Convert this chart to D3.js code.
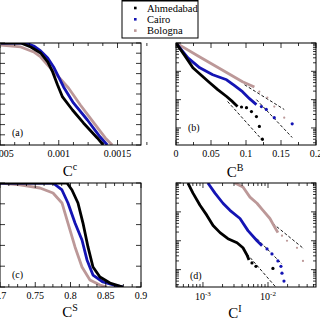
<!DOCTYPE html>
<html>
<head>
<meta charset="utf-8">
<script src="https://cdn.jsdelivr.net/npm/d3@7"></script>
<style>
  body { margin: 0; background: #fff; }
  svg { display: block; }
</style>
</head>
<body>
<svg id="chart" width="320" height="320" font-family="'Liberation Serif', 'Times New Roman', 'DejaVu Serif', serif"></svg>
<script>
const CITIES = ['Ahmedabad', 'Cairo', 'Bologna'];
const COLORS = ['#000000', '#1414b4', '#bc9898'];

// (a) closeness C^c, cumulative fraction
const aAhm = [[0.000508,1],[0.000677,1],[0.000762,0.961],[0.000846,0.902],[0.000906,0.814],[0.000948,0.716],[0.00099,0.588],[0.001032,0.471],[0.001117,0.343],[0.00121,0.216],[0.001328,0.069],[0.001379,0]];
const aCai = [[0.000508,1],[0.00072,1],[0.000787,0.971],[0.000846,0.922],[0.000906,0.853],[0.000956,0.765],[0.001041,0.569],[0.001125,0.412],[0.001244,0.245],[0.001353,0.078],[0.001413,0]];
const aBol = [[0.000508,0.98],[0.000677,0.961],[0.000787,0.912],[0.000846,0.863],[0.000906,0.784],[0.000999,0.667],[0.001083,0.559],[0.001184,0.392],[0.001294,0.225],[0.001396,0.069],[0.001455,0]];

// (b) betweenness C^B
const bAhm = [[0,1],[0.0128,0.35],[0.0241,0.133],[0.0369,0.0697],[0.0482,0.0396],[0.0596,0.0225],[0.0723,0.0129],[0.0808,0.0085],[0.0879,0.0057]];
const bAhmTail = [[0.0936,0.0055],[0.1007,0.0052],[0.1078,0.0038],[0.1149,0.00253],[0.1191,0.00113],[0.1234,0.0004]];
const bAhmFit = [[0.0737,0.0086],[0.1248,0.00034]];
const bCai = [[0,1],[0.017,0.3],[0.034,0.133],[0.0525,0.0755],[0.0723,0.0503],[0.0837,0.031],[0.095,0.0191],[0.105,0.0108],[0.1149,0.0067]];
const bCaiTail = [[0.122,0.0057],[0.129,0.0045],[0.1404,0.0023],[0.166,0.0014]];
const bCaiFit = [[0.1149,0.01],[0.166,0.00046]];
const bBol = [[0,1],[0.034,0.32],[0.0624,0.126],[0.095,0.043],[0.112,0.028]];
const bBolTail = [[0.119,0.0191],[0.1305,0.0118],[0.1404,0.0057],[0.1546,0.0023]];
const bBolFit = [[0.0979,0.0336],[0.1546,0.0045]];

// (c) straightness C^S, cumulative fraction
const cAhm = [[0.7,1],[0.795,1],[0.8021,0.933],[0.8106,0.808],[0.8177,0.615],[0.8248,0.385],[0.8319,0.192],[0.8418,0.096],[0.856,0.038],[0.8744,0]];
const cCai = [[0.7,1],[0.7752,1],[0.7879,0.933],[0.7964,0.808],[0.8064,0.615],[0.8163,0.452],[0.8234,0.26],[0.8319,0.115],[0.846,0.048],[0.8659,0.01],[0.8744,0]];
const cBol = [[0.7,1],[0.7284,0.981],[0.7567,0.952],[0.7752,0.904],[0.7879,0.808],[0.7964,0.615],[0.8064,0.385],[0.8163,0.192],[0.8276,0.067],[0.8418,0.019],[0.8517,0]];

// (d) information C^I
const dAhm = [[5.87e-4,1],[7.02e-4,0.446],[9.0e-4,0.169],[1.15e-3,0.0754],[1.43e-3,0.0336],[1.83e-3,0.0191],[2.42e-3,0.0118],[3.34e-3,0.0085],[4.12e-3,0.0057],[4.75e-3,0.0032],[5.1e-3,0.00215]];
const dAhmTail = [[5.67e-3,0.0017],[6.53e-3,0.0013],[1.19e-2,0.0011]];
const dAhmFit = [[4.75e-3,0.0035],[1.37e-2,0.000224]];
const dCai = [[1.19e-3,1],[1.53e-3,0.446],[2.03e-3,0.199],[2.6e-3,0.113],[3.71e-3,0.0591],[4.92e-3,0.0224],[6.77e-3,0.01],[8.09e-3,0.0067]];
const dCaiTail = [[9.66e-3,0.0052],[1.15e-2,0.0035],[1.42e-2,0.002],[1.58e-2,0.0013],[1.64e-2,0.00075],[1.76e-2,0.0004]];
const dCaiFit = [[6.77e-3,0.0118],[1.64e-2,0.00156]];
const dBol = [[3.1e-3,1],[4.12e-3,0.724],[5.28e-3,0.323],[6.77e-3,0.199],[8.37e-3,0.113],[1.07e-2,0.0591],[1.28e-2,0.0286],[1.42e-2,0.0191]];
const dBolTail = [[1.64e-2,0.015],[1.96e-2,0.01],[2.79e-2,0.0057],[3.45e-2,0.002]];
const dBolFit = [[1.19e-2,0.0394],[3.58e-2,0.0052]];

const aTicks = [0.0005, 0.001, 0.0015];
const aTickLabels = ['0.0005', '0.001', '0.0015'];
const bTicks = [0, 0.05, 0.1, 0.15, 0.2];
const bTickLabels = ['0', '0.05', '0.1', '0.15', '0.2'];
const cTicks = [0.7, 0.75, 0.8, 0.85, 0.9];
const cTickLabels = ['0.7', '0.75', '0.8', '0.85', '0.9'];
const dTicks = [1e-3, 1e-2];
const dTickExps = ['-3', '-2'];

const svg = d3.select('#chart');

function linTicks(lo, hi, step) {
  const n = Math.round((hi - lo) / step);
  return d3.range(n + 1).map(i => lo + i * step);
}

function logTicks(scale) {
  return scale.ticks().map(v => ({ v, major: Math.abs(Math.log10(v) - Math.round(Math.log10(v))) < 1e-6 }));
}

function drawPanel(p) {
  const g = svg.append('g');
  const x = p.x, y = p.y;
  const [x0, x1] = x.range();
  const [y1, y0] = y.range();

  g.append('clipPath').attr('id', 'clip-' + p.id)
    .append('rect').attr('x', x0).attr('y', y0).attr('width', x1 - x0).attr('height', y1 - y0);
  const plot = g.append('g').attr('clip-path', `url(#clip-${p.id})`);
  const line = d3.line().x(d => x(d[0])).y(d => y(d[1]));

  // fits first, under the data
  (p.fits || []).forEach(f => {
    plot.append('path').datum(f).attr('d', line)
      .attr('fill', 'none').attr('stroke', '#000').attr('stroke-width', 0.9)
      .attr('stroke-dasharray', '3,2');
  });

  p.order.forEach(i => {
    plot.append('path').datum(p.curves[i]).attr('d', line)
      .attr('fill', 'none').attr('stroke', COLORS[i]).attr('stroke-width', 2.8)
      .attr('stroke-linejoin', 'round');
    if (p.tails && p.tails[i]) {
      plot.selectAll(null).data(p.tails[i]).enter().append('circle')
        .attr('cx', d => x(d[0])).attr('cy', d => y(d[1]))
        .attr('r', i === 2 ? 1.1 : 1.6).attr('fill', COLORS[i]);
    }
  });

  // ticks on all four sides
  const tk = g.append('g').attr('stroke', '#000').attr('stroke-width', 0.8);
  p.xTickSet.forEach(t => {
    const len = t.major ? 5 : 3;
    const px = x(t.v);
    tk.append('line').attr('x1', px).attr('x2', px).attr('y1', y1).attr('y2', y1 - len);
    tk.append('line').attr('x1', px).attr('x2', px).attr('y1', y0).attr('y2', y0 + len);
  });
  p.yTickSet.forEach(t => {
    const len = t.major ? 5 : 3;
    const py = y(t.v);
    tk.append('line').attr('x1', x0).attr('x2', x0 + len).attr('y1', py).attr('y2', py);
    tk.append('line').attr('x1', x1).attr('x2', x1 - len).attr('y1', py).attr('y2', py);
  });

  g.append('rect').attr('x', x0).attr('y', y0).attr('width', x1 - x0).attr('height', y1 - y0)
    .attr('fill', 'none').attr('stroke', '#000').attr('stroke-width', 1);

  // tick labels
  p.labels.forEach((lab, k) => {
    const t = g.append('text').attr('x', x(p.labelTicks[k])).attr('y', y1 + 12)
      .attr('text-anchor', 'middle').attr('font-size', 10);
    if (p.sup) {
      t.attr('y', y1 + 13);
      t.append('tspan').text('10');
      t.append('tspan').attr('dy', -4).attr('font-size', 7).text(lab);
    } else {
      t.text(lab);
    }
  });

  g.append('text').attr('x', p.tag[0]).attr('y', p.tag[1]).attr('font-size', 10).text(p.tagText);

  const title = g.append('text').attr('x', p.title[0]).attr('y', p.title[1])
    .attr('text-anchor', 'middle').attr('font-size', 15);
  title.append('tspan').text('C');
  title.append('tspan').attr('dy', -6).attr('font-size', 10).text(p.titleSup);
}

const logY = (top, bottom) => d3.scaleLog().domain([2.5e-4, 1]).range([bottom, top]);

// (a)
const xa = d3.scaleLinear().domain([0.0005, 0.0017]).range([0, 141]);
const ya = d3.scaleLinear().domain([0, 1]).range([145, 43]);
drawPanel({
  id: 'a', x: xa, y: ya,
  curves: [aAhm, aCai, aBol], order: [2, 1, 0],
  xTickSet: linTicks(0.0005, 0.0017, 0.000125).map(v => ({ v, major: Math.abs(v / 0.0005 - Math.round(v / 0.0005)) < 1e-6 })),
  yTickSet: linTicks(0, 1, 0.1).map(v => ({ v, major: true })),
  labels: aTickLabels, labelTicks: aTicks,
  tag: [12, 136], tagText: '(a)', title: [70, 176], titleSup: 'c'
});

// (b)
const xb = d3.scaleLinear().domain([0, 0.2]).range([176, 316]);
const yb = logY(43, 145);
drawPanel({
  id: 'b', x: xb, y: yb,
  curves: [bAhm, bCai, bBol], order: [2, 1, 0],
  tails: [bAhmTail, bCaiTail, bBolTail],
  fits: [bAhmFit, bCaiFit, bBolFit],
  xTickSet: linTicks(0, 0.2, 0.025).map(v => ({ v, major: Math.abs(v / 0.05 - Math.round(v / 0.05)) < 1e-6 })),
  yTickSet: logTicks(yb),
  labels: bTickLabels, labelTicks: bTicks,
  tag: [188, 131], tagText: '(b)', title: [235, 177], titleSup: 'B'
});

// (c)
const xc = d3.scaleLinear().domain([0.7, 0.9]).range([0, 141]);
const yc = d3.scaleLinear().domain([0, 1]).range([287, 183]);
drawPanel({
  id: 'c', x: xc, y: yc,
  curves: [cAhm, cCai, cBol], order: [2, 1, 0],
  xTickSet: linTicks(0.7, 0.9, 0.0125).map(v => ({ v, major: Math.abs((v - 0.7) / 0.05 - Math.round((v - 0.7) / 0.05)) < 1e-6 })),
  yTickSet: linTicks(0, 1, 0.2).map(v => ({ v, major: true })),
  labels: cTickLabels, labelTicks: cTicks,
  tag: [12, 278], tagText: '(c)', title: [70, 317], titleSup: 'S'
});

// (d)
const xd = d3.scaleLog().domain([3.85e-4, 0.0547]).range([176, 316]);
const yd = logY(183, 287);
drawPanel({
  id: 'd', x: xd, y: yd,
  curves: [dAhm, dCai, dBol], order: [2, 1, 0],
  tails: [dAhmTail, dCaiTail, dBolTail],
  fits: [dAhmFit, dCaiFit, dBolFit],
  xTickSet: logTicks(xd),
  yTickSet: logTicks(yd),
  labels: dTickExps, labelTicks: dTicks, sup: true,
  tag: [190, 279], tagText: '(d)', title: [235, 318], titleSup: 'I'
});

// legend
const lg = svg.append('g');
lg.append('rect').attr('x', 122).attr('y', -1).attr('width', 76).attr('height', 39)
  .attr('fill', '#fff').attr('stroke', '#000').attr('stroke-width', 1);
lg.append('line').attr('x1', 122).attr('x2', 198).attr('y1', 0.5).attr('y2', 0.5)
  .attr('stroke', '#000').attr('stroke-width', 2);
CITIES.forEach((name, i) => {
  const cy = 8 + i * 11.3;
  lg.append('rect').attr('x', 134).attr('y', cy - 1.3).attr('width', 2.6).attr('height', 2.6)
    .attr('fill', COLORS[i]);
  lg.append('text').attr('x', 147).attr('y', cy + 3.5).attr('font-size', 10.5).text(name);
});
</script>
</body>
</html>
